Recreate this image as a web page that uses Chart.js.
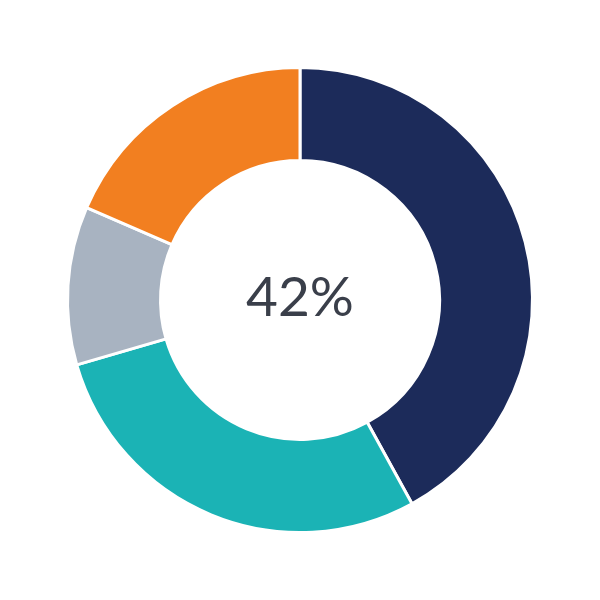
<!DOCTYPE html>
<html>
<head>
<meta charset="utf-8">
<script src="https://cdn.jsdelivr.net/npm/chart.js@4"></script>
<style>
  html, body { margin: 0; padding: 0; background: #fff; }
  #wrap { width: 600px; height: 600px; }
</style>
</head>
<body>
<div id="wrap"><canvas id="donut"></canvas></div>
<script>
const labels = ['Navy', 'Teal', 'Gray', 'Orange'];
const values = [42, 28.5, 11, 18.5];
const colors = ['#1c2b5a', '#1bb3b5', '#a8b3c1', '#f27f20'];
const centerLabel = '42%';

const centerText = {
    id: 'centerText',
    afterDraw(chart) {
        const meta = chart.getDatasetMeta(0);
        if (!meta.data.length) return;
        const { x, y } = meta.data[0];
        const ctx = chart.ctx;
        ctx.save();
        ctx.font = '400 55px Lato';
        ctx.fillStyle = '#3a3f4a';
        ctx.textAlign = 'center';
        ctx.textBaseline = 'middle';
        ctx.fillText(centerLabel, x, y - 2);
        ctx.restore();
    },
};

new Chart(document.getElementById('donut'), {
    type: 'doughnut',
    data: {
        labels: labels,
        datasets: [{
            data: values,
            backgroundColor: colors,
            borderColor: '#ffffff',
            borderWidth: 3,
        }],
    },
    options: {
        responsive: true,
        maintainAspectRatio: false,
        animation: false,
        cutout: '60%',
        layout: { padding: 66 },
        plugins: {
            legend: { display: false },
            tooltip: { enabled: false },
        },
    },
    plugins: [centerText],
});
</script>
</body>
</html>
